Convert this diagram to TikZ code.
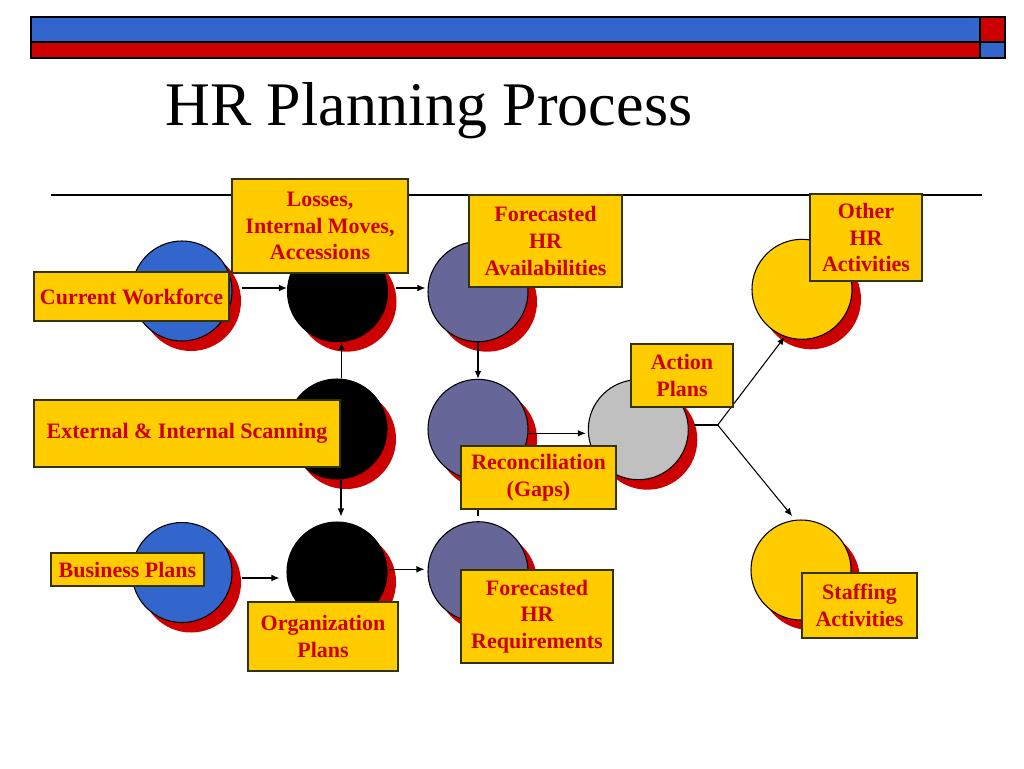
\documentclass[tikz,border=0pt]{standalone}
\usepackage{fontspec}
\setmainfont{Liberation Serif}
\usetikzlibrary{calc,arrows.meta}
\definecolor{barblue}{HTML}{3366CC}
\definecolor{barred}{HTML}{CC0000}
\definecolor{purp}{HTML}{666699}
\definecolor{grayc}{HTML}{C0C0C0}
\definecolor{yel}{HTML}{FFCC00}
\definecolor{txtred}{HTML}{CC0000}
\definecolor{boxline}{HTML}{333300}
\begin{document}
\begin{tikzpicture}[x=0.75pt,y=-0.75pt,
  circ/.style={circle, draw=black, line width=0.8pt, minimum size=75pt, inner sep=0pt},
  shade/.style={circle, fill=barred, minimum size=75pt, inner sep=0pt},
  box/.style={draw=boxline, line width=0.9pt, fill=yel, text=txtred, align=center, inner sep=0pt,
    font=\fontsize{16.5}{20}\selectfont\bfseries},
  sz/.style 2 args={minimum width=#1*0.75pt, minimum height=#2*0.75pt},
  arr/.style={-{Latex[length=6pt,width=5pt]}, line width=0.8pt},
  ln/.style={line width=0.8pt}]
\useasboundingbox (0,0) rectangle (1024,768);
% top bar
\draw[fill=barblue, line width=0.8pt] (31,17) rectangle (980,42);
\draw[fill=barred, line width=0.8pt] (31,42) rectangle (980,58);
\draw[fill=barred, line width=0.8pt] (980,17) rectangle (1005,42);
\draw[fill=barblue, line width=0.8pt] (980,42) rectangle (1005,58);
% title
\node[anchor=base west, inner sep=0pt, font=\fontsize{46.5}{50}\selectfont] (title) at (165,125) {HR Planning Process};
% horizontal rule
\coordinate (hl1) at (51,195);
\coordinate (hl2) at (982,195);
\draw[line width=0.9pt] (hl1) -- (hl2);
% shadows
\node[shade] (As) at (191,301) {};
\node[shade] (Bs) at (346.5,301.7) {};
\node[shade] (Cs) at (487,301.7) {};
\node[shade] (Ds) at (191,582.5) {};
\node[shade] (Es) at (346,439) {};
\node[shade] (Fs) at (346,582) {};
\node[shade] (Gs) at (487,439.3) {};
\node[shade] (Hs) at (487,581.7) {};
\node[shade] (Is) at (647.3,439.7) {};
\node[shade] (Js) at (811,299.3) {};
\node[shade] (Ks) at (810,580) {};
% circles
\node[circ, fill=barblue] (A) at (182,291) {};
\node[circ, fill=black] (B) at (337.5,291.7) {};
\node[circ, fill=purp] (C) at (478,291.7) {};
\node[circ, fill=barblue] (D) at (182,572.5) {};
\node[circ, fill=black] (E) at (337,429) {};
\node[circ, fill=black] (F) at (337,572) {};
\node[circ, fill=purp] (G) at (478,429.3) {};
\node[circ, fill=purp] (H) at (478,571.7) {};
\node[circ, fill=grayc] (I) at (638.3,429.7) {};
\node[circ, fill=yel] (J) at (802,289.3) {};
\node[circ, fill=yel] (K) at (801,570) {};
% connectors
\draw[arr] ($(A.east)+(9,-3)$) -- ($(B.west)+(0,-3.7)$);
\draw[arr] ($(B.east)+(8,-3.7)$) -- ($(C.west)+(-2,-3.7)$);
\draw[arr] ($(E.north)+(4.5,0)$) -- ($(B.south)+(4,0)$);
\draw[arr] ($(E.south)+(4,0)$) -- ($(F.north)+(4,-5)$);
\draw[arr] ($(D.east)+(9,5.5)$) -- ($(F.west)+(-7,6)$);
\draw[arr] ($(F.east)+(1,-2.7)$) -- ($(H.west)+(-3,-2.4)$);
\draw[arr] (C.south) -- (G.north);
\draw[ln] (G.south) -- ($(H.north)+(0,-5)$);
\draw[arr] ($(G.east)+(0,4)$) -- ($(I.west)+(-2,3.6)$);
\coordinate (fork) at (717.7,425);
\draw[ln] ($(I.east)+(5,-4.7)$) -- (fork);
\draw[arr] (fork) -- (J.250);
\draw[arr] (fork) -- ($(K.100)+(0,-4)$);
% boxes
\node[box, sz={195}{49}] (cw) at (131.5,296.5) {Current Workforce};
\node[box, sz={176}{94}] (lo) at (320,226) {Losses,\\Internal Moves,\\Accessions};
\node[box, sz={153}{92}] (fha) at (545.5,241) {Forecasted\\HR\\Availabilities};
\node[box, sz={306}{67}] (eis) at (187,433.5) {External \& Internal Scanning};
\node[box, sz={155}{63}] (rec) at (538.5,477.5) {Reconciliation\\(Gaps)};
\node[box, sz={102}{63}] (ap) at (682,375.5) {Action\\Plans};
\node[box, sz={112}{87}] (oth) at (866,237.5) {Other\\HR\\Activities};
\node[box, sz={153}{33}] (bp) at (127.5,569.5) {Business Plans};
\node[box, sz={150}{69}] (op) at (323,636.5) {Organization\\Plans};
\node[box, sz={152}{93}] (fhr) at (537,616.5) {Forecasted\\HR\\Requirements};
\node[box, sz={115}{65}] (st) at (859.5,605.5) {Staffing\\Activities};
\end{tikzpicture}
\end{document}
